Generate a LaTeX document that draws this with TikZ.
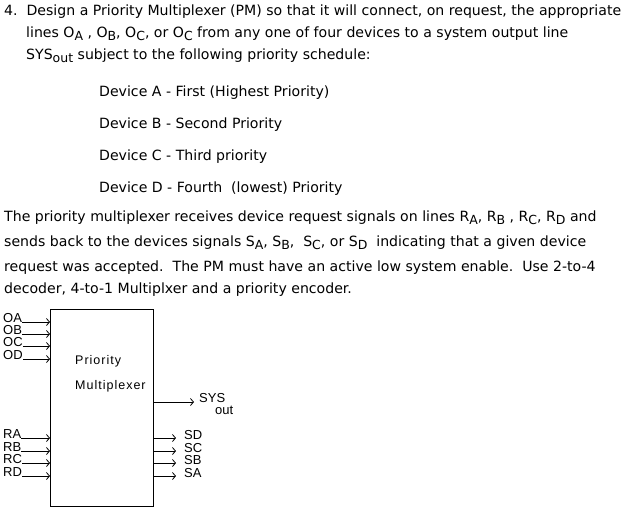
\documentclass[tikz,border=0pt]{standalone}
\usepackage{fontspec}
\setmainfont{DejaVu Sans}
\newfontfamily\arialf{Liberation Sans}
\usetikzlibrary{arrows.meta}
\newcommand{\sbx}[1]{\raisebox{-0.45ex}{\fontsize{12.5}{14}\selectfont #1}}
\begin{document}
\begin{tikzpicture}[x=1pt,y=-1pt,
  txt/.style={anchor=base west,inner sep=0pt,font=\fontsize{14.1}{16}\selectfont},
  lbl/.style={inner sep=0pt,font=\arialf\fontsize{13}{13}\selectfont},
  sig/.style={draw,line width=0.8pt,-{Straight Barb[length=3pt,width=7pt]}}]
\useasboundingbox (0,0) rectangle (629,514);
\node[txt] (t1) at (4,15) {4.\ \ Design a Priority Multiplexer (PM) so that it will connect, on request, the appropriate};
\node[txt] (t2) at (26,37) {lines O\sbx{A} , O\sbx{B}, O\sbx{C}, or O\sbx{C} from any one of four devices to a system output line};
\node[txt] (t3) at (26,59) {SYS\sbx{out} subject to the following priority schedule:};
\node[txt] (d1) at (99,96) {Device A - First (Highest Priority)};
\node[txt] (d2) at (99,128) {Device B - Second Priority};
\node[txt] (d3) at (99,160) {Device C - Third priority};
\node[txt] (d4) at (99,192) {Device D - Fourth\ \ (lowest) Priority};
\node[txt] (p1) at (4,221) {The priority multiplexer receives device request signals on lines R\sbx{A}, R\sbx{B} , R\sbx{C}, R\sbx{D} and};
\node[txt] (p2) at (4,246) {sends back to the devices signals S\sbx{A}, S\sbx{B}, \ S\sbx{C}, or S\sbx{D} \ indicating that a given device};
\node[txt] (p3) at (4,271) {request was accepted.\ \ The PM must have an active low system enable.\ \ Use 2-to-4};
\node[txt] (p4) at (4,293) {decoder, 4-to-1 Multiplxer and a priority encoder.};
\draw[line width=1pt] (50,309) rectangle (153,506);
\node[lbl,anchor=west,font=\arialf\fontsize{12.5}{13}\selectfont\addfontfeature{LetterSpace=8}] (pm1) at (75,361) {Priority};
\node[lbl,anchor=west,font=\arialf\fontsize{12.5}{13}\selectfont\addfontfeature{LetterSpace=8}] (pm2) at (75,386) {Multiplexer};
\foreach \n/\y in {OA/322,OB/334,OC/346,OD/359,RA/438,RB/451,RC/463,RD/476}{
  \node[lbl,anchor=base west] (\n) at (3,\y) {\n};
  \coordinate (\n e) at (50,\y);
  \draw[sig] (\n.base east) -- (\n e);
}
\foreach \n/\y in {SD/438,SC/451,SB/463,SA/476}{
  \coordinate (\n s) at (153,\y);
  \coordinate (\n t) at (176,\y);
  \draw[sig] (\n s) -- (\n t);
  \node[lbl,anchor=west] (\n) at (184,\y-3) {\n};
}
\coordinate (syss) at (153,402);
\coordinate (syst) at (194,402);
\draw[sig] (syss) -- (syst);
\node[lbl,anchor=west] (sys) at (199,398) {SYS};
\node[lbl,anchor=west] (out) at (215,410) {out};
\end{tikzpicture}
\end{document}
